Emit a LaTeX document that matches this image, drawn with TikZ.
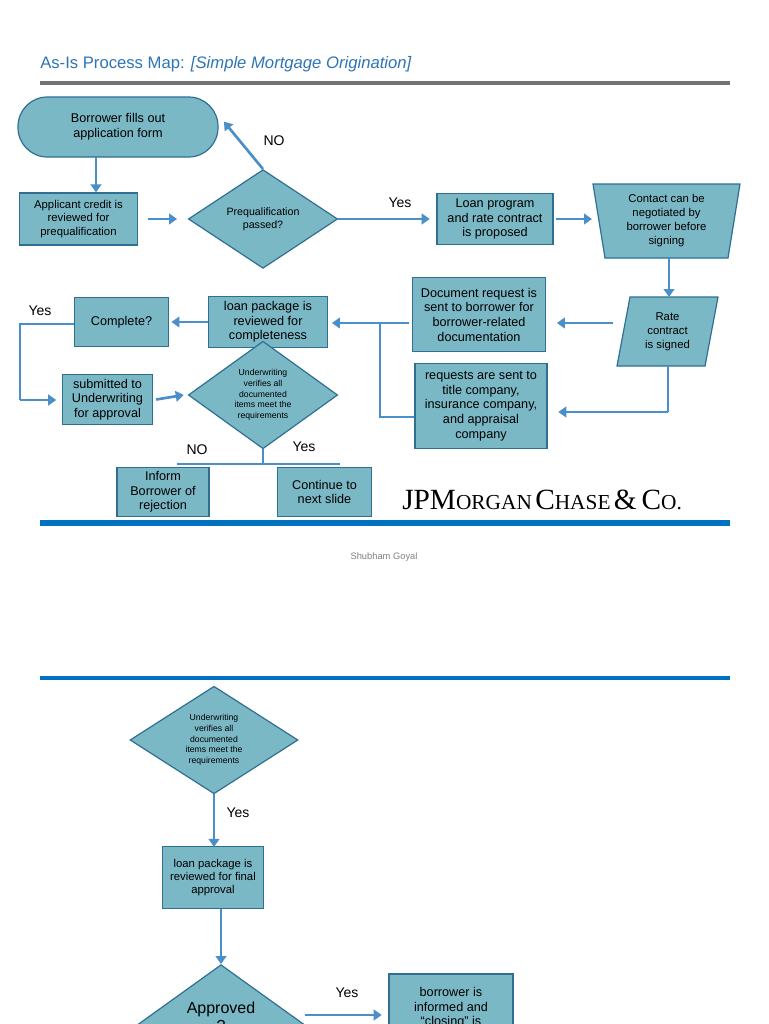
\documentclass[tikz,border=0pt]{standalone}
\usepackage{fontspec}
\setmainfont{Liberation Sans}
\newfontfamily\serif{Liberation Serif}
\usetikzlibrary{shapes.geometric,arrows.meta}
\definecolor{boxfill}{HTML}{7BB8C5}
\definecolor{boxline}{HTML}{2F6F94}
\definecolor{arr}{HTML}{4A8FC9}
\definecolor{titleblue}{HTML}{2E75B6}
\definecolor{rule}{HTML}{0070C0}
\newcommand{\bigc}[1]{{\fontsize{22}{24}\selectfont #1}}
\newcommand{\smc}[1]{{\fontsize{16}{18}\selectfont #1}}
\begin{document}
\begin{tikzpicture}[x=0.75pt,y=-0.75pt,
  box/.style={draw=boxline,fill=boxfill,line width=0.9pt,align=center,inner sep=1pt,font=\fontsize{9.5}{11}\selectfont},
  dia/.style={draw=boxline,fill=boxfill,line width=0.9pt,diamond,align=center,inner sep=0pt,font=\fontsize{8}{9.5}\selectfont},
  a/.style={draw=arr,line width=2pt,-{Triangle[length=6pt,width=8pt]}},
  l/.style={draw=arr,line width=2pt},
  lbl/.style={font=\fontsize{10.5}{12}\selectfont}]
\path[use as bounding box] (0,0) rectangle (768,1024);
\clip (0,0) rectangle (768,1024);
\fill[white] (0,0) rectangle (768,1024);
\node[anchor=west,text=titleblue,font=\fontsize{12.5}{14}\selectfont,inner sep=0pt] (title) at (40,64) {As-Is Process Map: \textit{[Simple Mortgage Origination]}};
\draw[gray!90!black,line width=3pt] (40,83) -- (730,83);
% row 1
\node[box,rounded corners=22pt,minimum width=150pt,minimum height=45pt] (start) at (118,127) {Borrower fills out\\application form};
\node[box,minimum width=88pt,minimum height=39pt,font=\fontsize{8.5}{10}\selectfont] (cred) at (78.5,219) {Applicant credit is\\reviewed for\\prequalification};
\node[dia,minimum width=112pt,minimum height=74pt] (pq) at (263,219) {Prequalification\\passed?};
\node[box,minimum width=87pt,minimum height=38pt] (lp) at (495,219) {Loan program\\and rate contract\\is proposed};
\filldraw[draw=boxline,fill=boxfill,line width=0.9pt] (593,184) -- (740,184) -- (728,258) -- (605,258) -- cycle;
\node[align=center,font=\fontsize{8.5}{10.5}\selectfont] (neg) at (666.5,221) {Contact can be\\negotiated by\\borrower before\\signing};
\filldraw[draw=boxline,fill=boxfill,line width=0.9pt] (630,297) -- (718,297) -- (705,366) -- (617,366) -- cycle;
\node[align=center,font=\fontsize{8.5}{10.5}\selectfont] (rc) at (667.5,331.5) {Rate\\contract\\is signed};
\coordinate (negb) at (669,258); \coordinate (rct) at (669,297);
\coordinate (rcl) at (617,323); \coordinate (rcb) at (668,366);
\node[box,minimum width=100pt,minimum height=56pt] (doc) at (479,314.5) {Document request is\\sent to borrower for\\borrower-related\\documentation};
\node[box,minimum width=99pt,minimum height=64pt] (req) at (481,406) {requests are sent to\\title company,\\insurance company,\\and appraisal\\company};
\node[box,minimum width=89pt,minimum height=38pt] (pkg) at (268,322) {loan package is\\reviewed for\\completeness};
\node[box,minimum width=70pt,minimum height=37pt] (comp) at (121.5,322) {Complete?};
\node[box,minimum width=68pt,minimum height=38pt] (sub) at (107.5,399.5) {submitted to\\Underwriting\\for approval};
\node[dia,minimum width=112pt,minimum height=69pt,font=\fontsize{6.5}{8}\selectfont] (uw) at (263,395) {Underwriting\\verifies all\\documented\\items meet the\\requirements};
\node[box,minimum width=69pt,minimum height=37pt] (inf) at (163,492) {Inform\\Borrower of\\rejection};
\node[box,minimum width=70pt,minimum height=37pt] (cont) at (324.5,492) {Continue to\\next slide};
% connectors row 1
\draw[a] (96,157) coordinate (sb) -- (cred.north -| sb);
\draw[a] ([xshift=8pt]cred.east) -- ([xshift=-8pt]pq.west);
\draw[a] (pq.north) -- ([xshift=4pt,yshift=4pt]start.east);
\node[lbl] (no1) at (274,141) {NO};
\draw[a] (pq.east) -- ([xshift=-5pt]lp.west);
\node[lbl] (yes1) at (400,203) {Yes};
\draw[a] ([xshift=2pt]lp.east) -- (592,219);
\draw[a] (negb) -- (rct);
\draw[a] ([xshift=-3pt]rcl) -- ([xshift=8pt]doc.east |- rcl);
\draw[l] (rcb) -- (668,412);
\draw[a] (668,412) -- ([xshift=8pt]req.east |- 0,412);
\draw[a] ([xshift=-2pt]doc.west |- 0,323) -- ([xshift=3pt]pkg.east |- 0,323);
\draw[l] (380,323) -- (380,417) -- (req.west |- 0,417);
\draw[a] (pkg.west) -- ([xshift=2pt]comp.east);
\draw[l] (comp.west |- 0,324) -- (20,324) -- (20,400);
\draw[a] (20,400) -- ([xshift=-4pt]sub.west |- 0,400);
\node[lbl] (yes2) at (40,311) {Yes};
\draw[a] ([xshift=2pt]sub.east) -- ([xshift=-3pt]uw.west);
\draw[l] (uw.south) -- (263,464);
\draw[draw=arr,line width=1.5pt] (177,464) -- (340,464);
\node[lbl] (no2) at (197,450) {NO};
\node[lbl] (yes3) at (304,447) {Yes};
% logo
\node[anchor=west,font=\serif,inner sep=0pt] (logo) at (402,500) {\bigc{JPM}\smc{ORGAN} \bigc{C}\smc{HASE} \bigc{\&\,C}\smc{O.}};
\draw[rule,line width=3.8pt] (40,523) -- (730,523);
\node[text=gray,font=\fontsize{7}{8}\selectfont] (author) at (384,557) {Shubham Goyal};
\draw[rule,line width=2.4pt] (40,678) -- (730,678);
% page 2
\node[dia,minimum width=126pt,minimum height=78pt,font=\fontsize{6.5}{8}\selectfont] (uw2) at (214,740) {Underwriting\\verifies all\\documented\\items meet the\\requirements};
\node[box,minimum width=76pt,minimum height=47pt,font=\fontsize{8.5}{10}\selectfont] (fin) at (213,877.5) {loan package is\\reviewed for final\\approval};
\node[dia,minimum width=128pt,minimum height=92pt,font=\fontsize{12}{14}\selectfont] (ap) at (221,1026) {Approved\\?\\\phantom{x}};
\node[box,minimum width=93pt,minimum height=60pt,text depth=0pt] (clos) at (451,1014) {borrower is\\informed and\\“closing” is\\\phantom{x}};
\draw[a] (uw2.south) -- ([yshift=-1pt]fin.north -| uw2.south);
\node[lbl] (yes4) at (238,813) {Yes};
\draw[a] (221,909) coordinate (fb) -- (ap.north);
\draw[a] (305,1015) coordinate (apr) -- ([xshift=-5pt]clos.west |- apr);
\node[lbl] (yes5) at (347,993) {Yes};
\end{tikzpicture}
\end{document}
